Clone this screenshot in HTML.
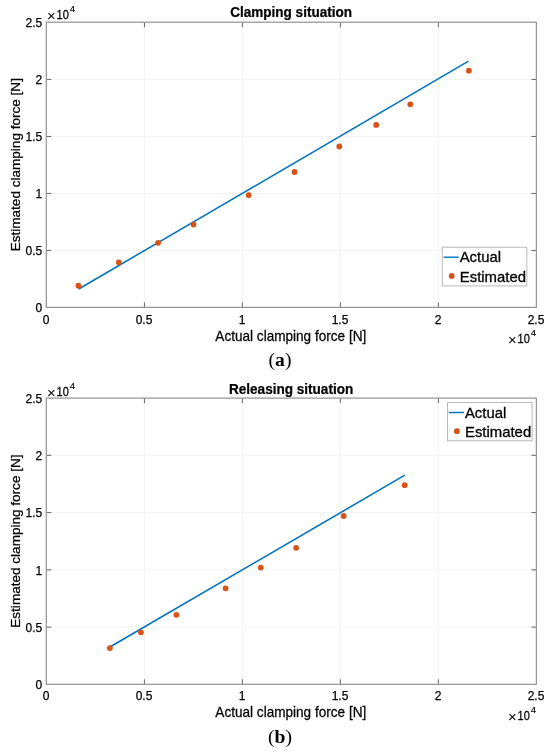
<!DOCTYPE html>
<html><head><meta charset="utf-8"><title>Clamping force estimation</title>
<style>
html,body{margin:0;padding:0;background:#fff;}
body{width:550px;height:752px;position:relative;overflow:hidden;}
text{font-family:'Liberation Sans', Arial, Helvetica, sans-serif;fill:#000;}
.tk{font-size:12px;stroke:#000;stroke-width:0.25px;}
.mx{font-size:14.8px;}
.sup{font-size:9.6px;stroke:#000;stroke-width:0.15px;}
.ti{font-size:14.45px;font-weight:bold;stroke:#000;stroke-width:0.25px;}
.al{font-size:14.1px;stroke:#000;stroke-width:0.25px;}
.yl{font-size:12.7px;stroke:#000;stroke-width:0.25px;}
.lg{font-size:14.6px;stroke:#000;stroke-width:0.3px;}
.cap{font-family:'Liberation Serif', 'Times New Roman', serif;font-size:19.6px;}
</style></head>
<body>
<svg width="550" height="752" viewBox="0 0 550 752" style="position:absolute;left:0;top:0">
<path d="M144.43 22.2V307.4M46.3 250.45H536.35M242.40 22.2V307.4M46.3 193.45H536.35M340.37 22.2V307.4M46.3 136.45H536.35M438.35 22.2V307.4M46.3 79.45H536.35" stroke="#f4f4f4" stroke-width="1" fill="none"/>
<path d="M144.43 307.4V302.40M144.43 22.2V27.20M46.3 250.45H51.30M536.35 250.45H531.35M242.40 307.4V302.40M242.40 22.2V27.20M46.3 193.45H51.30M536.35 193.45H531.35M340.37 307.4V302.40M340.37 22.2V27.20M46.3 136.45H51.30M536.35 136.45H531.35M438.35 307.4V302.40M438.35 22.2V27.20M46.3 79.45H51.30M536.35 79.45H531.35" stroke="#666666" stroke-width="1" fill="none"/>
<rect x="46.3" y="22.2" width="490.05" height="285.20" fill="none" stroke="#929292" stroke-width="1.2"/>
<path d="M78.7 289.0L468.5 61.2" stroke="#0072BD" stroke-width="1.55" fill="none"/>
<circle cx="78.4" cy="285.7" r="2.9" fill="#D95319"/>
<circle cx="118.8" cy="262.3" r="2.9" fill="#D95319"/>
<circle cx="158.1" cy="242.8" r="2.9" fill="#D95319"/>
<circle cx="193.5" cy="224.5" r="2.9" fill="#D95319"/>
<circle cx="248.7" cy="195.1" r="2.9" fill="#D95319"/>
<circle cx="294.5" cy="172.0" r="2.9" fill="#D95319"/>
<circle cx="339.3" cy="146.5" r="2.9" fill="#D95319"/>
<circle cx="376.2" cy="124.9" r="2.9" fill="#D95319"/>
<circle cx="410.3" cy="104.3" r="2.9" fill="#D95319"/>
<circle cx="468.9" cy="70.7" r="2.9" fill="#D95319"/>
<text transform="translate(46.00 324.00)" text-anchor="middle" class="tk">0</text>
<text transform="translate(42.30 312.15)" text-anchor="end" class="tk">0</text>
<text transform="translate(144.00 324.00)" text-anchor="middle" class="tk">0.5</text>
<text transform="translate(42.30 255.15)" text-anchor="end" class="tk">0.5</text>
<text transform="translate(242.00 324.00)" text-anchor="middle" class="tk">1</text>
<text transform="translate(42.30 198.15)" text-anchor="end" class="tk">1</text>
<text transform="translate(340.00 324.00)" text-anchor="middle" class="tk">1.5</text>
<text transform="translate(42.30 141.15)" text-anchor="end" class="tk">1.5</text>
<text transform="translate(438.00 324.00)" text-anchor="middle" class="tk">2</text>
<text transform="translate(42.30 84.15)" text-anchor="end" class="tk">2</text>
<text transform="translate(536.00 324.00)" text-anchor="middle" class="tk">2.5</text>
<text transform="translate(42.30 27.15)" text-anchor="end" class="tk">2.5</text>
<text transform="translate(47.10 21.00)" class="mx">×</text>
<text transform="translate(56.60 18.70) scale(0.92 1)" class="tk">10</text>
<text transform="translate(69.70 12.10)" class="sup">4</text>
<text transform="translate(508.10 345.30)" class="mx">×</text>
<text transform="translate(517.60 343.00) scale(0.92 1)" class="tk">10</text>
<text transform="translate(530.70 336.40)" class="sup">4</text>
<text transform="translate(291.10 16.80) scale(0.938 1)" text-anchor="middle" class="ti">Clamping situation</text>
<text transform="translate(290.80 340.60) scale(0.964 1)" text-anchor="middle" class="al">Actual clamping force [N]</text>
<text transform="translate(20.10 164.70) rotate(-90) scale(1.068 1)" text-anchor="middle" class="yl">Estimated clamping force [N]</text>
<rect x="442.3" y="247.2" width="84.49999999999994" height="38.69999999999999" fill="#fff" stroke="#b8b8b8" stroke-width="1"/>
<path d="M443.6 257.2h15.2" stroke="#0072BD" stroke-width="1.4"/>
<text transform="translate(459.70 262.20) scale(1.02 1)" class="lg">Actual</text>
<circle cx="451.7" cy="275.9" r="2.9" fill="#D95319"/>
<text transform="translate(459.80 281.50) scale(1.02 1)" class="lg">Estimated</text>
<text x="280" y="366.00" text-anchor="middle" class="cap">(<tspan font-weight="bold">a</tspan>)</text>
<path d="M144.43 398.1V684.3M46.3 627.12H536.35M242.40 398.1V684.3M46.3 569.85H536.35M340.37 398.1V684.3M46.3 512.58H536.35M438.35 398.1V684.3M46.3 455.30H536.35" stroke="#f4f4f4" stroke-width="1" fill="none"/>
<path d="M144.43 684.3V679.30M144.43 398.1V403.10M46.3 627.12H51.30M536.35 627.12H531.35M242.40 684.3V679.30M242.40 398.1V403.10M46.3 569.85H51.30M536.35 569.85H531.35M340.37 684.3V679.30M340.37 398.1V403.10M46.3 512.58H51.30M536.35 512.58H531.35M438.35 684.3V679.30M438.35 398.1V403.10M46.3 455.30H51.30M536.35 455.30H531.35" stroke="#666666" stroke-width="1" fill="none"/>
<rect x="46.3" y="398.1" width="490.05" height="286.20" fill="none" stroke="#929292" stroke-width="1.2"/>
<path d="M109.9 647.0L404.8 475.2" stroke="#0072BD" stroke-width="1.55" fill="none"/>
<circle cx="109.9" cy="648.1" r="2.9" fill="#D95319"/>
<circle cx="140.9" cy="632.3" r="2.9" fill="#D95319"/>
<circle cx="176.4" cy="614.8" r="2.9" fill="#D95319"/>
<circle cx="225.6" cy="588.3" r="2.9" fill="#D95319"/>
<circle cx="260.8" cy="567.6" r="2.9" fill="#D95319"/>
<circle cx="296.1" cy="547.8" r="2.9" fill="#D95319"/>
<circle cx="343.7" cy="516.0" r="2.9" fill="#D95319"/>
<circle cx="404.7" cy="485.2" r="2.9" fill="#D95319"/>
<text transform="translate(46.00 700.00)" text-anchor="middle" class="tk">0</text>
<text transform="translate(42.30 689.10)" text-anchor="end" class="tk">0</text>
<text transform="translate(144.00 700.00)" text-anchor="middle" class="tk">0.5</text>
<text transform="translate(42.30 631.83)" text-anchor="end" class="tk">0.5</text>
<text transform="translate(242.00 700.00)" text-anchor="middle" class="tk">1</text>
<text transform="translate(42.30 574.55)" text-anchor="end" class="tk">1</text>
<text transform="translate(340.00 700.00)" text-anchor="middle" class="tk">1.5</text>
<text transform="translate(42.30 517.28)" text-anchor="end" class="tk">1.5</text>
<text transform="translate(438.00 700.00)" text-anchor="middle" class="tk">2</text>
<text transform="translate(42.30 460.00)" text-anchor="end" class="tk">2</text>
<text transform="translate(536.00 700.00)" text-anchor="middle" class="tk">2.5</text>
<text transform="translate(42.30 402.72)" text-anchor="end" class="tk">2.5</text>
<text transform="translate(47.10 397.90)" class="mx">×</text>
<text transform="translate(56.60 395.60) scale(0.92 1)" class="tk">10</text>
<text transform="translate(69.70 389.00)" class="sup">4</text>
<text transform="translate(508.10 721.90)" class="mx">×</text>
<text transform="translate(517.60 719.60) scale(0.92 1)" class="tk">10</text>
<text transform="translate(530.70 713.00)" class="sup">4</text>
<text transform="translate(291.10 393.70) scale(0.938 1)" text-anchor="middle" class="ti">Releasing situation</text>
<text transform="translate(290.80 716.60) scale(0.964 1)" text-anchor="middle" class="al">Actual clamping force [N]</text>
<text transform="translate(20.10 541.10) rotate(-90) scale(1.068 1)" text-anchor="middle" class="yl">Estimated clamping force [N]</text>
<rect x="447.5" y="402.5" width="84.60000000000002" height="38.30000000000001" fill="#fff" stroke="#b8b8b8" stroke-width="1"/>
<path d="M448.8 412.5h15.2" stroke="#0072BD" stroke-width="1.4"/>
<text transform="translate(464.90 417.50) scale(1.02 1)" class="lg">Actual</text>
<circle cx="456.9" cy="431.2" r="2.9" fill="#D95319"/>
<text transform="translate(465.00 436.80) scale(1.02 1)" class="lg">Estimated</text>
<text x="280" y="743.10" text-anchor="middle" class="cap">(<tspan font-weight="bold">b</tspan>)</text>
</svg>
</body></html>
